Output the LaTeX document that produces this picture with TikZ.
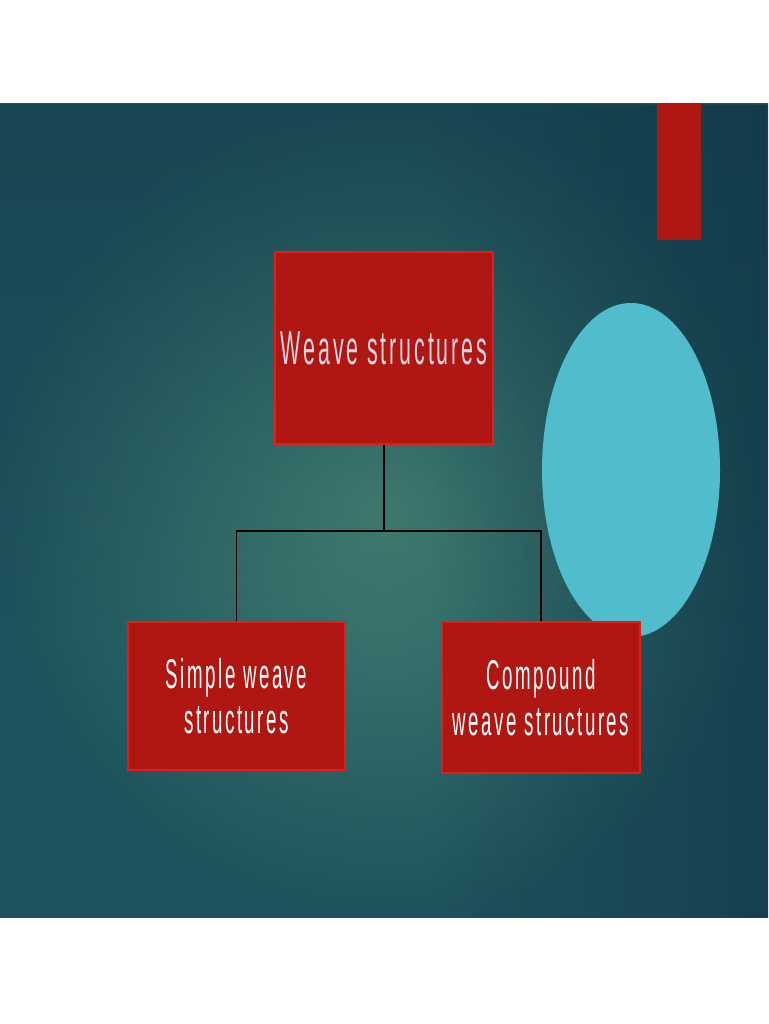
\documentclass[tikz,border=0pt]{standalone}
\usepackage{fontspec}
\usetikzlibrary{fadings}
\newfontfamily\boxfont[FakeStretch=0.45,LetterSpace=6]{Liberation Sans}
\definecolor{bgin}{RGB}{66,126,114}
\definecolor{bgout}{RGB}{30,82,92}
\definecolor{bgdark}{RGB}{14,50,66}
\definecolor{boxred}{RGB}{176,22,18}
\definecolor{boxedge}{RGB}{226,30,24}
\definecolor{barred}{RGB}{176,22,18}
\definecolor{lightblue}{RGB}{80,188,204}
\definecolor{toptext}{RGB}{214,214,224}
\tikzset{
  redbox/.style={fill=boxred,draw=boxedge,line width=2.4pt,inner sep=0pt,
    align=center,font=\boxfont},
  link/.style={black,line width=1.1pt}
}
\begin{document}
\begin{tikzpicture}
\useasboundingbox (0,0) rectangle (23.04,30.72);
\fill[white] (0,0) rectangle (23.04,30.72);
% slide background
\shade[inner color=bgin,outer color=bgout] (0,3.18) rectangle (23.04,27.6);
\fill[bgdark,fill opacity=0.5,path fading=west] (13,3.18) rectangle (23.04,27.6);
\fill[bgdark,fill opacity=0.35,path fading=south] (0,12) rectangle (23.04,27.6);
\fill[barred] (19.71,23.52) rectangle (21.03,27.6);
\fill[lightblue] (18.93,16.62) ellipse [x radius=2.67,y radius=5.01];
% boxes
\node[redbox,minimum width=6.54cm,minimum height=5.76cm,text=toptext,
  font=\boxfont\fontsize{40.6}{46}\selectfont] (weave) at (11.52,20.28) {Weave structures};
\node[redbox,minimum width=6.51cm,minimum height=4.44cm,text=white,
  font=\boxfont\fontsize{35.5}{39}\selectfont] (simple) at (7.095,9.84) {Simple weave\\structures};
\node[redbox,minimum width=5.94cm,minimum height=4.53cm,text=white,
  font=\boxfont\fontsize{35.5}{39}\selectfont] (compound) at (16.23,9.795) {Compound\\weave structures};
% connectors
\coordinate (bus) at (11.52,14.79);
\draw[link] (weave.south) -- (bus);
\draw[link] (simple.north) |- (bus) -| (compound.north);
\end{tikzpicture}
\end{document}
